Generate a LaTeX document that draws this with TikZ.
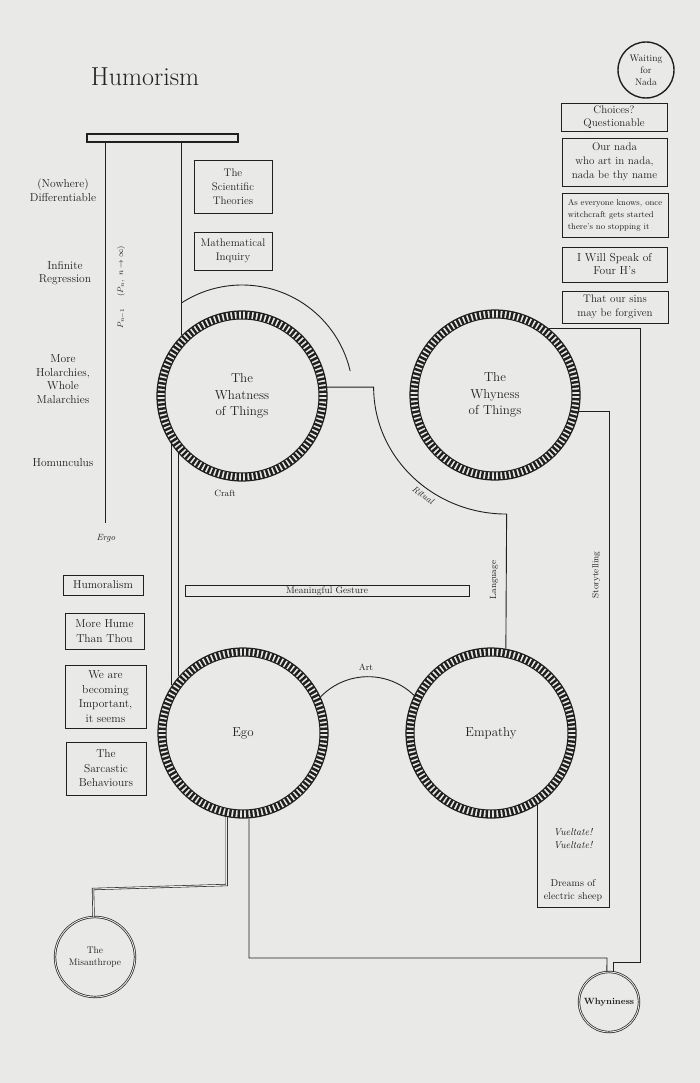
\documentclass[tikz,border=0pt]{standalone}
\usepackage{tikz}
\usetikzlibrary{positioning}
\definecolor{ink}{RGB}{32,32,32}
\definecolor{paperbg}{RGB}{233,233,231}
\tikzset{
	every node/.append style={
		text=ink,
	},
	wire/.append style={
		draw=ink,
		line width=0.9pt,
	},
	labe/.append style={
		inner sep=0pt,
		font={\fontsize{9}{11}\selectfont}
	},
	loose/.append style={
		align=center,
		inner sep=0pt,
		font={\fontsize{11.5}{13.7}\selectfont}
	},
	notebox/.append style={
		draw=ink,
		line width=0.8pt,
		align=center,
		inner sep=0pt,
		font={\fontsize{11}{14}\selectfont}
	},
	plate/.append style={
		circle,
		draw=ink,
		double=paperbg,
		double distance=0.9pt,
		line width=0.7pt,
		inner sep=0pt,
		align=center,
		font={\fontsize{9.5}{12}\selectfont}
	},
	wheel/.append style={
		circle,
		draw=ink,
		line width=1.2pt,
		minimum size=170pt,
		inner sep=0pt,
		align=center,
		font={\fontsize{13}{16.5}\selectfont},
		path picture={
			\draw[ink, line width=1pt] (path picture bounding box.center) circle[radius=77pt];
			\foreach \a in {0,3,...,357}
				\draw[ink, line width=2.4pt] (path picture bounding box.center) ++(\a:77pt) -- ++(\a:8pt);
		}
	}
}

\begin{document}
\begin{tikzpicture}[x=1pt, y=-1pt]
\fill[paperbg, use as bounding box] (0,0) rectangle (700,1083);

% title and the bar
\node (humorism) at (145,77) {\fontsize{26}{30}\selectfont Humorism};
\node[draw=ink, line width=1.4pt, minimum width=151pt, minimum height=8pt, inner sep=0pt] (bar) at (162.5,138) {};

% the four wheels
\node[wheel] (whatness) at (242,396) {The\\Whatness\\of Things};
\node[wheel] (whyness) at (495,395) {The\\Whyness\\of Things};
\node[wheel] (ego) at (243,733) {Ego};
\node[wheel] (empathy) at (491,733) {Empathy};

% left column
\node[loose] (nowhere) at (63,190) {(Nowhere)\\Differentiable};
\node[loose] (regress) at (65,273) {Infinite\\Regression};
\node[loose] (holarch) at (63,379) {More\\Holarchies,\\Whole\\Malarchies};
\node[loose] (homunc) at (63,463) {Homunculus};
\node[labe] (ergo) at (106,538) {\itshape Ergo};
\node[labe, rotate=90, font={\fontsize{8}{10}\selectfont}] (limit) at (121,287) {$P_{n-1}\hspace{12pt}(P_{n},\ n\to\infty)$};
\coordinate (ergoend) at (105,523);

\node[notebox, minimum width=78pt, minimum height=53pt] (sci) at (233,186.5) {The\\Scientific\\Theories};
\node[notebox, minimum width=78pt, minimum height=38pt] (math) at (233,251) {Mathematical\\Inquiry};

\node[notebox, font={\fontsize{11.5}{14.5}\selectfont}, minimum width=80pt, minimum height=20pt] (humoral) at (103,585) {Humoralism};
\node[notebox, font={\fontsize{11.5}{14.5}\selectfont}, minimum width=79pt, minimum height=36pt] (hume) at (104.5,631) {More Hume\\Than Thou};
\node[notebox, font={\fontsize{11.5}{14.5}\selectfont}, minimum width=81pt, minimum height=63pt] (important) at (105.5,696.5) {We are\\becoming\\Important,\\it seems};
\node[notebox, font={\fontsize{11.5}{14.5}\selectfont}, minimum width=80pt, minimum height=53pt] (sarcastic) at (106,768.5) {The\\Sarcastic\\Behaviours};

% right column
\node[circle, draw=ink, line width=1.4pt, minimum size=56pt, inner sep=0pt, align=center, font={\fontsize{9.5}{12}\selectfont}] (nada) at (646,70) {Waiting\\for\\Nada};
\node[notebox, minimum width=106pt, minimum height=28pt, font={\fontsize{11}{12.8}\selectfont}] (choices) at (614,117) {Choices?\\Questionable};
\node[notebox, minimum width=105pt, minimum height=48pt] (ournada) at (614.5,162) {Our nada\\who art in nada,\\nada be thy name};
\node[notebox, minimum width=106pt, minimum height=44pt, align=left, font={\fontsize{8.5}{12}\selectfont}] (witch) at (615,215) {As everyone knows, once\\witchcraft gets started\\there's no stopping it};
\node[notebox, minimum width=105pt, minimum height=35pt, font={\fontsize{11.5}{13}\selectfont}] (fourh) at (614.5,264.5) {I Will Speak of\\Four H's};
\node[notebox, minimum width=106pt, minimum height=32pt] (sins) at (615,307) {That our sins\\may be forgiven};

% middle
\node[draw=ink, line width=0.6pt, minimum width=284pt, minimum height=11pt, inner sep=0pt, font={\fontsize{9.5}{11}\selectfont}] (gesture) at (327,591) {Meaningful Gesture};
\node[labe] (craft) at (225,493) {Craft};
\node[labe, rotate=-36] (ritual) at (423,495) {\itshape Ritual};
\node[labe, rotate=90] (language) at (494,580) {Language};
\node[labe, rotate=90] (story) at (596,575) {Storytelling};
\node[labe] (art) at (366,667) {Art};
\node[labe, align=center, font={\fontsize{10}{13}\selectfont\itshape}] (vueltate) at (573,839) {Vueltate!\\Vueltate!};
\node[labe, align=center, font={\fontsize{10}{13}\selectfont}] (sheep) at (573,890) {Dreams of\\electric sheep};

% bottom
\node[plate, minimum size=80pt] (misanthrope) at (95,957) {The\\Misanthrope};
\node[plate, minimum size=60pt, font={\fontsize{9}{11}\selectfont\bfseries}] (whyniness) at (609,1002) {Whyniness};
\coordinate (misbend) at (93,889);
\coordinate (dreamcorner) at (609,907);
\coordinate (whycorner) at (640,962);
\coordinate (egojoin) at (607,958);

% connectors
\draw[wire] (bar.south -| ergoend) -- (ergoend);
\draw[wire] (whatness.135) -- (whatness.135 |- bar.south);
\draw[wire] ([shift={(123:111pt)}]whatness.center) arc[start angle=123, end angle=13, radius=111pt];
\draw[wire] (whatness.214.6) -- (whatness.214.6 |- ego.146.7);
\draw[wire] (whatness.222.2) -- (whatness.222.2 |- ego.138.8);
\draw[wire] (whatness.6) -- ++(46.5,0) arc[start angle=180, end angle=270, x radius=133pt, y radius=127pt] -- (empathy.80);
\draw[wire] (ego.25.6) arc[start angle=136, end angle=44, radius=66pt];
\draw[wire] (whyness.-11.5) -| (dreamcorner) -| (empathy.-57);
\draw[wire] (whyness.51) -| (whycorner) -| (whyniness.82);
\draw[wire] (ego.-86) |- (egojoin) -- (whyniness.94);
\draw[wire, line width=0.6pt, double=paperbg, double distance=1pt] (ego.-101.5) -- ++(0,68) -- (misbend) -- (misanthrope.92);
\end{tikzpicture}
\end{document}
